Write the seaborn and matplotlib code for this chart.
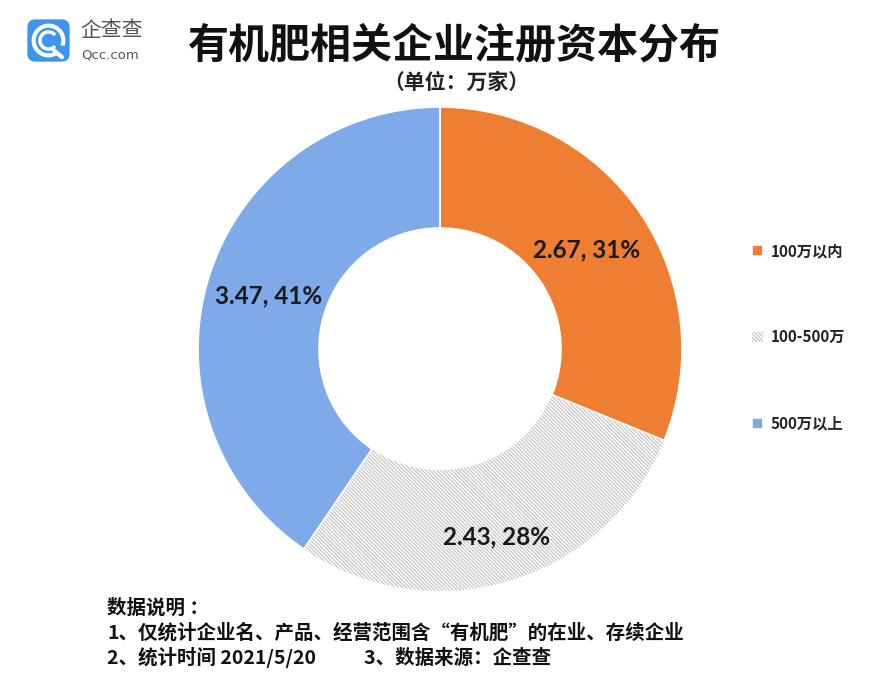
import matplotlib
matplotlib.use("Agg")
import matplotlib.pyplot as plt
import seaborn as sns
import numpy as np
from matplotlib.patches import FancyBboxPatch, Arc

categories = ['100万以内', '100-500万', '500万以上']
values = [2.67, 2.43, 3.47]
percents = [31, 28, 41]

title = '有机肥相关企业注册资本分布'
subtitle = '（单位：万家）'
notes = ['数据说明 ：',
         '1、仅统计企业名、产品、经营范围含“有机肥”的在业、存续企业',
         '2、统计时间 2021/5/20           3、数据来源：企查查']

sns.set_theme(style="white")
plt.rcParams['font.family'] = ['Noto Sans CJK SC', 'DejaVu Sans']
plt.rcParams['hatch.linewidth'] = 0.7

colors = ['#EE7E31', '#FFFFFF', '#7EAAEA']

W, H = 887, 689
fig = plt.figure(figsize=(W / 100, H / 100), dpi=100)
fig.patch.set_facecolor('white')

cx, cy, R = 440, 349, 242
ax = fig.add_axes([(cx - R) / W, (H - cy - R) / H, 2 * R / W, 2 * R / H])
wedges, _ = ax.pie(values, startangle=90, counterclock=False, radius=1,
                   colors=colors,
                   wedgeprops=dict(width=0.5, edgecolor='white', linewidth=1.2))
wedges[1].set_hatch('\\' * 9)
wedges[1].set_edgecolor('#b8b8b8')
wedges[1].set_linewidth(0)
for w in (wedges[0], wedges[2]):
    w.set_zorder(3)
ax.set_xlim(-1, 1)
ax.set_ylim(-1, 1)
ax.set_aspect('equal')
ax.axis('off')

label_r = [0.73, 0.81, 0.74]
for w, v, p, r in zip(wedges, values, percents, label_r):
    ang = np.deg2rad((w.theta1 + w.theta2) / 2)
    ax.text(r * np.cos(ang), r * np.sin(ang), f'{v:.2f}, {p}%',
            ha='center', va='center', fontsize=17.5, color='#1a1a1a',
            family=['Lato', 'DejaVu Sans'], fontweight='bold', zorder=5)

leg = ax.legend(wedges, categories, loc='upper left',
                bbox_to_anchor=(752 / W, 1 - 243 / H),
                bbox_transform=fig.transFigure, frameon=False,
                fontsize=11, handlelength=0.7, handleheight=0.7,
                handletextpad=0.5, labelspacing=4.6, borderpad=0,
                borderaxespad=0)
for t in leg.get_texts():
    t.set_fontweight('bold')
    t.set_color('#222222')

fig.text(454 / W, 1 - 45 / H, title, ha='center', va='center',
         fontsize=29.5, fontweight='bold', color='#111111')
fig.text(456 / W, 1 - 82 / H, subtitle, ha='center', va='center',
         fontsize=15, fontweight='bold', color='#222222')

ys = [608, 633, 657]
for txt, y in zip(notes, ys):
    fig.text(107 / W, 1 - y / H, txt, ha='left', va='center',
             fontsize=14, fontweight='bold', color='#111111')

# logo
lx0, ly0, ls = 26, 18, 45
lax = fig.add_axes([lx0 / W, (H - ly0 - ls) / H, ls / W, ls / H])
lax.set_xlim(0, 1)
lax.set_ylim(0, 1)
lax.axis('off')
lax.add_patch(FancyBboxPatch((0.03, 0.03), 0.94, 0.94,
                             boxstyle='round,pad=0,rounding_size=0.18',
                             facecolor='#3F94EE', edgecolor='none'))
lax.add_patch(Arc((0.5, 0.5), 0.66, 0.66, theta1=-20, theta2=300,
                  color='white', lw=3))
lax.add_patch(Arc((0.5, 0.5), 0.38, 0.38, theta1=40, theta2=320,
                  color='white', lw=2.5))
lax.plot([0.62, 0.8], [0.28, 0.13], color='white', lw=3, solid_capstyle='round')
fig.text(80 / W, 1 - 30 / H, '企查查', ha='left', va='center',
         fontsize=15, color='#555555')
fig.text(81 / W, 1 - 55 / H, 'Qcc.com', ha='left', va='center',
         fontsize=9.5, color='#555555', family=['DejaVu Sans'])

fig.savefig('out.png', dpi=100, facecolor='white')
